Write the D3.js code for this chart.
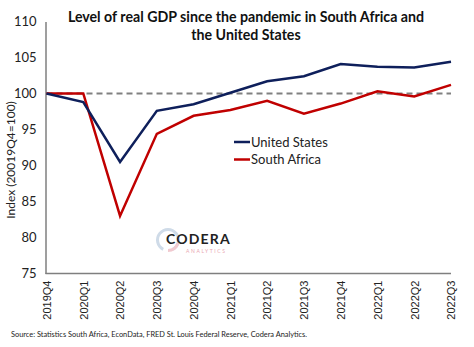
<!DOCTYPE html>
<html><head><meta charset="utf-8">
<script src="https://cdn.jsdelivr.net/npm/d3@7"></script>
<style>body{margin:0;background:#fff}svg{display:block}</style>
</head><body>
<svg id="c" width="474" height="347"></svg>
<script>
const quarters = ["2019Q4","2020Q1","2020Q2","2020Q3","2020Q4","2021Q1","2021Q2","2021Q3","2021Q4","2022Q1","2022Q2","2022Q3"];
const usValues = [100,98.8,90.5,97.6,98.5,100.1,101.7,102.4,104.1,103.7,103.6,104.4];
const saValues = [100,100,83.0,94.4,96.9,97.7,99.0,97.2,98.6,100.3,99.6,101.2];
const yTicks = [75,80,85,90,95,100,105,110];
const seriesNames = ["United States","South Africa"];

const svg = d3.select("#c");
const x = d3.scalePoint().domain(quarters).range([46.5,451]);
const y = d3.scaleLinear().domain([75,110]).range([273.5,21.5]);

// Title
const title = svg.append("text").attr("text-anchor","middle").attr("font-family","Lato").attr("font-weight","bold").attr("font-size",14.2).attr("fill","#111");
title.append("tspan").attr("x",246).attr("y",22).text("Level of real GDP since the pandemic in South Africa and");
title.append("tspan").attr("x",246).attr("y",40).text("the United States");

// Y axis
const yAxis = svg.append("g").attr("transform","translate(45.5,0)")
  .call(d3.axisLeft(y).tickValues(yTicks).tickSize(0).tickPadding(9));
yAxis.select(".domain").attr("stroke","#7f7f7f").attr("stroke-width",1.5);
yAxis.selectAll("text").attr("font-family","Lato").attr("font-size",13).attr("fill","#222");

// X axis
const xAxis = svg.append("g").attr("transform","translate(0,273.5)")
  .call(d3.axisBottom(x).tickSize(0).tickPadding(0));
xAxis.select(".domain").attr("stroke","#7f7f7f").attr("stroke-width",1.5).attr("d","M45.5,0H451");
xAxis.selectAll("text").attr("font-family","Liberation Sans, Arial").attr("font-size",11).attr("fill","#222")
  .attr("transform","rotate(-90)").attr("text-anchor","end").attr("dx","-7").attr("dy","0.35em").attr("y",0);

// Y axis label
svg.append("text").attr("transform","translate(15,160) rotate(-90)").attr("text-anchor","middle")
  .attr("font-family","Lato").attr("font-size",12).attr("fill","#222").text("Index (20019Q4=100)");

// Baseline dashed
svg.append("line").attr("x1",x(quarters[0])).attr("x2",x(quarters[quarters.length-1]))
  .attr("y1",y(100)).attr("y2",y(100)).attr("stroke","#808080").attr("stroke-width",2).attr("stroke-dasharray","6,4");

// Logo
const logo = svg.append("g");
logo.append("path").attr("d", d3.arc()({innerRadius:9,outerRadius:12,startAngle:Math.PI*0.15+Math.PI,endAngle:Math.PI*1.85+Math.PI}))
  .attr("transform","translate(168,240)").attr("fill","#cfdbe8");
logo.append("path").attr("d", d3.arc()({innerRadius:9,outerRadius:12,startAngle:Math.PI*0.6,endAngle:Math.PI*1.0}))
  .attr("transform","translate(168,240)").attr("fill","#f1c9cf");
logo.append("text").attr("x",166).attr("y",244).attr("font-family","Lato").attr("font-weight","bold").attr("font-size",14).attr("letter-spacing",1.2).attr("fill","#222").text("CODERA");
logo.append("text").attr("x",186).attr("y",253).attr("font-family","Lato").attr("font-size",5).attr("letter-spacing",1.6).attr("fill","#e9a5b0").text("ANALYTICS");

// Lines
const line = d3.line().x((d,i)=>x(quarters[i])).y(d=>y(d));
svg.append("path").datum(saValues).attr("d",line).attr("fill","none").attr("stroke","#c00000").attr("stroke-width",2.5);
svg.append("path").datum(usValues).attr("d",line).attr("fill","none").attr("stroke","#0e1f5b").attr("stroke-width",2.5);

// Legend
const colors = ["#0e1f5b","#c00000"];
seriesNames.forEach((n,i)=>{
  const yy = 142 + i*17.5;
  svg.append("line").attr("x1",234).attr("x2",250).attr("y1",yy).attr("y2",yy).attr("stroke",colors[i]).attr("stroke-width",2.5);
  svg.append("text").attr("x",251).attr("y",yy+4.5).attr("font-family","Lato").attr("font-size",13).attr("fill","#222").text(n);
});

// Source
svg.append("text").attr("x",11).attr("y",337).attr("font-family","Lato").attr("font-size",7.4).attr("fill","#222")
  .text("Source: Statistics South Africa, EconData, FRED St. Louis Federal Reserve, Codera Analytics.");
</script>
</body></html>
